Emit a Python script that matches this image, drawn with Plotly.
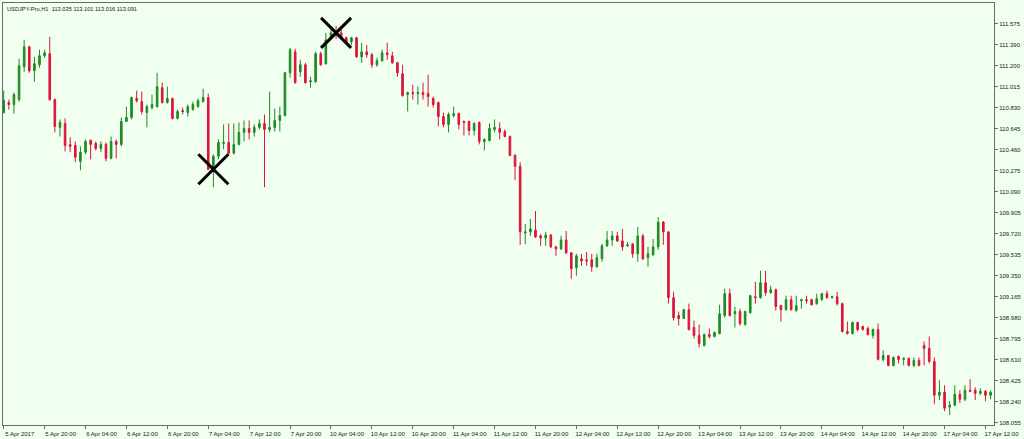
import plotly.graph_objects as go

symbol_title = "USDJPY-Pro,H1  113.035 113.101 113.016 113.091"

opens = [110.790, 110.878, 110.860, 110.904, 111.193, 111.369, 111.158, 111.211, 111.290, 111.308,
         110.904, 110.659, 110.694, 110.509, 110.500, 110.360, 110.440, 110.544, 110.518, 110.474,
         110.509, 110.387, 110.535, 110.509, 110.711, 110.746, 110.913, 110.886, 110.790, 110.834,
         110.842, 111.009, 110.878, 110.913, 110.738, 110.807, 110.790, 110.816, 110.842, 110.886,
         110.922, 110.290, 110.404, 110.518, 110.527, 110.431, 110.509, 110.615, 110.650, 110.615,
         110.659, 110.694, 110.641, 110.659, 110.720, 110.764, 111.140, 111.325, 111.149, 111.211,
         111.061, 111.061, 111.308, 111.220, 111.439, 111.500, 111.492, 111.448, 111.413, 111.448,
         111.281, 111.325, 111.299, 111.211, 111.246, 111.316, 111.290, 111.228, 111.132, 110.948,
         110.966, 110.957, 110.966, 110.957, 110.913, 110.878, 110.755, 110.685, 110.764, 110.781,
         110.711, 110.711, 110.632, 110.703, 110.535, 110.544, 110.641, 110.650, 110.623, 110.579,
         110.413, 110.316, 109.729, 109.738, 109.755, 109.703, 109.685, 109.711, 109.606, 109.589,
         109.667, 109.554, 109.422, 109.501, 109.492, 109.492, 109.431, 109.501, 109.615, 109.667,
         109.703, 109.659, 109.615, 109.632, 109.545, 109.703, 109.510, 109.536, 109.606, 109.825,
         109.738, 109.159, 109.001, 108.975, 109.053, 108.896, 108.826, 108.738, 108.834, 108.817,
         108.843, 109.001, 109.194, 109.018, 109.036, 108.922, 109.027, 109.167, 109.159, 109.290,
         109.203, 109.229, 109.089, 109.053, 109.141, 109.045, 109.132, 109.141, 109.141, 109.106,
         109.141, 109.194, 109.159, 109.167, 109.106, 108.861, 108.843, 108.940, 108.905, 108.887,
         108.826, 108.878, 108.615, 108.650, 108.562, 108.641, 108.615, 108.624, 108.562, 108.606,
         108.738, 108.712, 108.597, 108.299, 108.326, 108.194, 108.212, 108.308, 108.264, 108.343,
         108.343, 108.317, 108.334, 108.299]

highs = [110.983, 110.904, 110.966, 111.264, 111.430, 111.378, 111.281, 111.343, 111.343, 111.457,
         110.913, 110.729, 110.738, 110.571, 110.535, 110.492, 110.553, 110.553, 110.535, 110.535,
         110.527, 110.579, 110.553, 110.746, 110.842, 110.930, 110.983, 110.974, 110.860, 110.948,
         111.140, 111.053, 111.018, 110.922, 110.816, 110.834, 110.860, 110.886, 110.913, 111.000,
         110.957, 110.422, 110.553, 110.685, 110.694, 110.694, 110.703, 110.720, 110.720, 110.685,
         110.729, 110.773, 110.974, 110.825, 110.842, 111.149, 111.360, 111.351, 111.255, 111.228,
         111.105, 111.325, 111.325, 111.492, 111.518, 111.553, 111.518, 111.457, 111.457, 111.457,
         111.404, 111.386, 111.316, 111.272, 111.343, 111.404, 111.325, 111.237, 111.211, 110.974,
         111.035, 111.018, 111.053, 111.123, 110.930, 110.886, 110.790, 110.790, 110.842, 110.790,
         110.720, 110.720, 110.703, 110.711, 110.562, 110.694, 110.729, 110.703, 110.641, 110.588,
         110.422, 110.352, 109.808, 109.852, 109.922, 109.720, 109.738, 109.720, 109.615, 109.703,
         109.746, 109.562, 109.545, 109.545, 109.562, 109.545, 109.545, 109.632, 109.746, 109.746,
         109.738, 109.764, 109.650, 109.641, 109.781, 109.720, 109.606, 109.676, 109.869, 109.834,
         109.746, 109.211, 109.036, 109.062, 109.106, 108.957, 108.922, 108.843, 108.887, 108.861,
         109.097, 109.238, 109.238, 109.080, 109.062, 109.045, 109.185, 109.299, 109.396, 109.396,
         109.264, 109.238, 109.097, 109.176, 109.176, 109.176, 109.150, 109.176, 109.150, 109.194,
         109.203, 109.220, 109.176, 109.211, 109.115, 108.948, 108.948, 108.948, 108.913, 108.905,
         108.887, 108.931, 108.694, 108.650, 108.641, 108.650, 108.632, 108.632, 108.632, 108.632,
         108.773, 108.817, 108.632, 108.431, 108.387, 108.247, 108.387, 108.343, 108.387, 108.440,
         108.369, 108.361, 108.343, 108.343]

lows = [110.781, 110.816, 110.781, 110.886, 111.149, 111.140, 111.061, 111.184, 111.272, 110.895,
        110.615, 110.579, 110.448, 110.440, 110.352, 110.281, 110.422, 110.378, 110.457, 110.440,
        110.360, 110.378, 110.387, 110.492, 110.711, 110.729, 110.878, 110.773, 110.659, 110.816,
        110.834, 110.869, 110.869, 110.729, 110.729, 110.773, 110.755, 110.807, 110.834, 110.878,
        110.281, 110.132, 110.378, 110.466, 110.422, 110.422, 110.500, 110.535, 110.553, 110.579,
        110.641, 110.132, 110.615, 110.623, 110.623, 110.755, 111.097, 111.044, 111.105, 111.044,
        111.009, 111.053, 111.202, 111.211, 111.430, 111.439, 111.430, 111.386, 111.386, 111.272,
        111.228, 111.272, 111.184, 111.193, 111.237, 111.255, 111.220, 111.105, 110.930, 110.799,
        110.904, 110.860, 110.904, 110.842, 110.834, 110.667, 110.659, 110.615, 110.746, 110.641,
        110.588, 110.588, 110.588, 110.509, 110.457, 110.535, 110.615, 110.553, 110.571, 110.404,
        110.194, 109.624, 109.632, 109.703, 109.685, 109.615, 109.615, 109.597, 109.527, 109.580,
        109.545, 109.325, 109.352, 109.440, 109.440, 109.387, 109.422, 109.475, 109.606, 109.615,
        109.650, 109.571, 109.606, 109.510, 109.475, 109.492, 109.431, 109.527, 109.580, 109.624,
        109.106, 108.957, 108.913, 108.975, 108.869, 108.799, 108.720, 108.729, 108.799, 108.808,
        108.834, 108.983, 108.992, 108.896, 108.913, 108.913, 109.018, 109.106, 109.150, 109.176,
        109.194, 109.045, 108.948, 109.045, 109.045, 109.036, 109.062, 109.106, 109.089, 109.097,
        109.132, 109.150, 109.150, 109.089, 108.852, 108.834, 108.834, 108.861, 108.869, 108.826,
        108.799, 108.606, 108.597, 108.554, 108.554, 108.580, 108.562, 108.554, 108.545, 108.554,
        108.562, 108.580, 108.220, 108.256, 108.159, 108.124, 108.203, 108.229, 108.247, 108.326,
        108.256, 108.299, 108.247, 108.264]

closes = [110.895, 110.860, 110.948, 111.202, 111.369, 111.158, 111.220, 111.290, 111.316, 110.904,
          110.667, 110.703, 110.500, 110.492, 110.396, 110.440, 110.535, 110.509, 110.474, 110.509,
          110.387, 110.535, 110.509, 110.711, 110.746, 110.922, 110.895, 110.799, 110.842, 110.860,
          111.018, 110.878, 110.913, 110.738, 110.799, 110.799, 110.842, 110.860, 110.895, 110.922,
          110.290, 110.404, 110.527, 110.527, 110.431, 110.509, 110.615, 110.650, 110.615, 110.659,
          110.694, 110.641, 110.659, 110.720, 110.764, 111.140, 111.343, 111.053, 111.211, 111.053,
          111.070, 111.308, 111.211, 111.430, 111.492, 111.474, 111.448, 111.404, 111.448, 111.281,
          111.325, 111.299, 111.211, 111.246, 111.316, 111.299, 111.228, 111.140, 110.939, 110.966,
          110.957, 110.966, 110.948, 110.930, 110.860, 110.755, 110.685, 110.773, 110.781, 110.685,
          110.703, 110.632, 110.694, 110.535, 110.553, 110.650, 110.659, 110.615, 110.579, 110.413,
          110.316, 109.738, 109.738, 109.764, 109.694, 109.685, 109.711, 109.606, 109.589, 109.667,
          109.554, 109.413, 109.527, 109.483, 109.483, 109.431, 109.510, 109.615, 109.667, 109.703,
          109.659, 109.606, 109.624, 109.545, 109.703, 109.501, 109.545, 109.606, 109.825, 109.738,
          109.159, 108.983, 108.975, 109.053, 108.878, 108.826, 108.755, 108.834, 108.817, 108.852,
          109.018, 109.194, 109.001, 109.036, 108.931, 109.036, 109.176, 109.159, 109.290, 109.203,
          109.229, 109.080, 109.053, 109.141, 109.053, 109.089, 109.141, 109.132, 109.097, 109.150,
          109.194, 109.159, 109.167, 109.106, 108.861, 108.843, 108.940, 108.878, 108.878, 108.834,
          108.878, 108.615, 108.650, 108.562, 108.632, 108.615, 108.624, 108.562, 108.606, 108.562,
          108.712, 108.597, 108.299, 108.326, 108.185, 108.212, 108.308, 108.264, 108.343, 108.334,
          108.317, 108.334, 108.299, 108.326]

x_labels = ["5 Apr 2017", "5 Apr 20:00", "6 Apr 04:00", "6 Apr 12:00", "6 Apr 20:00",
            "7 Apr 04:00", "7 Apr 12:00", "7 Apr 20:00", "10 Apr 04:00", "10 Apr 12:00",
            "10 Apr 20:00", "11 Apr 04:00", "11 Apr 12:00", "11 Apr 20:00", "12 Apr 04:00",
            "12 Apr 12:00", "12 Apr 20:00", "13 Apr 04:00", "13 Apr 12:00", "13 Apr 20:00",
            "14 Apr 04:00", "14 Apr 12:00", "14 Apr 20:00", "17 Apr 04:00", "17 Apr 12:00"]
bars_per_label = 8

y_ticks = [108.055, 108.240, 108.425, 108.610, 108.795, 108.980, 109.165, 109.350, 109.535, 109.720,
           109.905, 110.090, 110.275, 110.460, 110.645, 110.830, 111.015, 111.200, 111.390, 111.575]

# fractal cross markers (bar index, price)
cross_bars = [41, 65]
cross_prices = [110.290, 111.492]

n = len(opens)
idx = list(range(n))

BG = "#F0FFF0"
UP = "#1F8B24"
DOWN = "#DC143C"
AX = "#6a6a6a"
TXT = "#1a1a1a"
FONT = "Liberation Sans"

fig = go.Figure()
fig.add_trace(go.Candlestick(
    x=idx, open=opens, high=highs, low=lows, close=closes,
    increasing=dict(line=dict(color=UP, width=1), fillcolor=UP),
    decreasing=dict(line=dict(color=DOWN, width=1), fillcolor=DOWN),
    whiskerwidth=0, showlegend=False, hoverinfo="skip",
))
fig.add_trace(go.Scatter(
    x=cross_bars, y=cross_prices, mode="markers", showlegend=False, hoverinfo="skip",
    marker=dict(symbol="x-thin", size=30, color="black", line=dict(width=3, color="black")),
))

fig.update_layout(
    width=1024, height=439,
    margin=dict(l=2, r=27, t=3, b=12),
    paper_bgcolor=BG, plot_bgcolor=BG,
    boxgap=0.55,
    font=dict(family=FONT, size=6, color=TXT),
    showlegend=False,
    annotations=[dict(
        text=symbol_title, xref="paper", yref="paper", x=0, y=1,
        xanchor="left", yanchor="top", xshift=2, yshift=-1, showarrow=False,
        font=dict(family=FONT, size=5.7, color=TXT),
    )],
)
fig.update_xaxes(
    range=[-0.14, 193.67], rangeslider=dict(visible=False),
    tickvals=[i * bars_per_label for i in range(len(x_labels))], ticktext=x_labels,
    ticks="outside", ticklen=3, tickcolor=AX, ticklabelshift=16, ticklabelstandoff=0,
    showline=True, linecolor=AX, linewidth=1, mirror=True,
    showgrid=False, zeroline=False, tickfont=dict(size=6, color=TXT),
)
fig.update_yaxes(
    range=[108.037, 111.755], side="right",
    tickvals=y_ticks, ticktext=[f"{v:.3f}" for v in y_ticks],
    ticks="outside", ticklen=3, tickcolor=AX,
    showline=True, linecolor=AX, linewidth=1, mirror=True,
    showgrid=False, zeroline=False, tickfont=dict(size=6, color=TXT),
)

fig.write_html(
    "out.html",
    config={"displayModeBar": False, "displaylogo": False},
    post_script="document.body.style.margin='0px';document.body.style.padding='0px';"
                "document.body.style.overflow='hidden';document.body.style.background='" + BG + "';",
)
